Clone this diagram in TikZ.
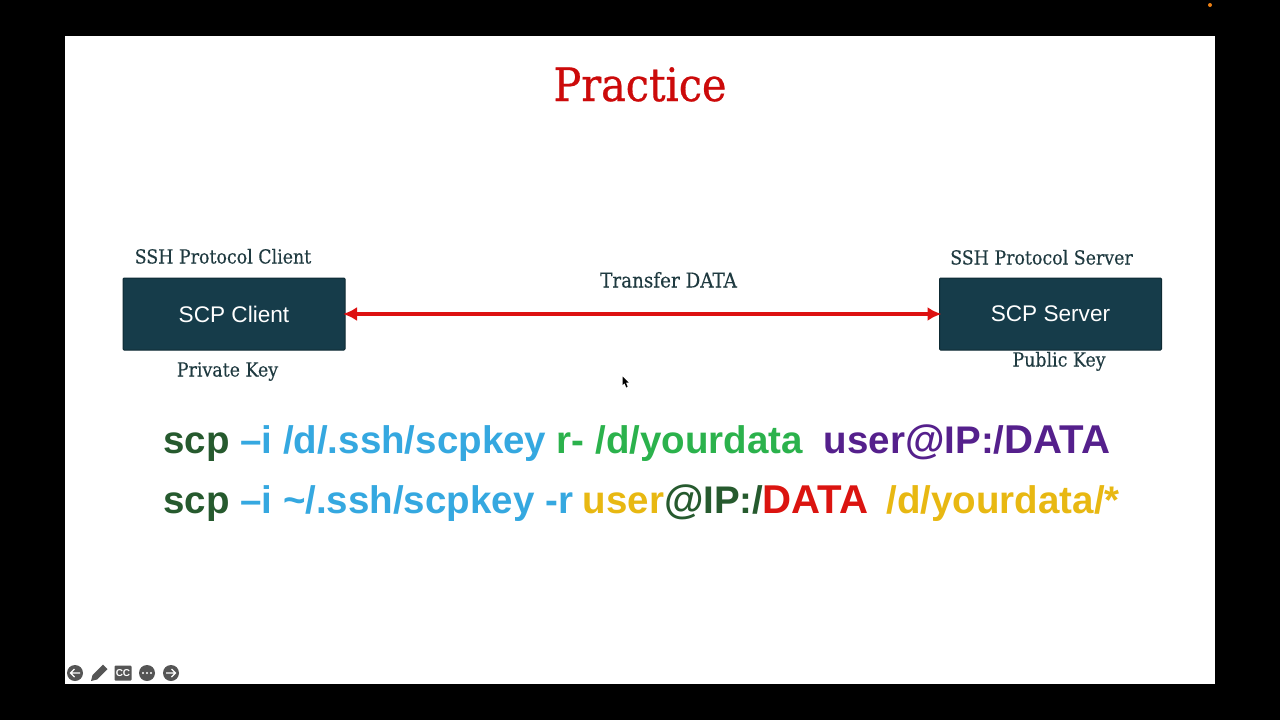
\documentclass[tikz,border=0pt]{standalone}
\usepackage{fontspec}
\setmainfont{Liberation Sans}
\newfontfamily\slab[FakeBold=0.25]{DejaVu Serif Condensed}
\newfontfamily\slabt[FakeBold=0.6]{DejaVu Serif Condensed}
\usetikzlibrary{arrows.meta}
\definecolor{boxfill}{HTML}{163C4A}
\definecolor{boxedge}{HTML}{0E2A33}
\definecolor{labelc}{HTML}{1F3A40}
\definecolor{titlec}{HTML}{CC0A0A}
\definecolor{arrowc}{HTML}{DD1111}
\definecolor{dgreen}{HTML}{265A2E}
\definecolor{sky}{HTML}{35A8E0}
\definecolor{lgreen}{HTML}{2BB24C}
\definecolor{purp}{HTML}{55208C}
\definecolor{amber}{HTML}{E8B812}
\definecolor{redt}{HTML}{DB1410}
\definecolor{icon}{HTML}{555555}
\newcommand{\bigat}{{\fontsize{40.5}{40}\selectfont @}}
\newcommand{\bigdata}{{\fontsize{40.2}{40}\selectfont DATA}}
\tikzset{x=1pt,y=-1pt,
 scpbox/.style={draw=boxedge,line width=1pt,rounded corners=1pt,outer sep=0pt,fill=boxfill,text=white,minimum width=222pt,minimum height=72pt,inner sep=0pt,font=\fontsize{22.6}{24}\selectfont},
 lbl/.style={text=labelc,inner sep=0pt,anchor=base,font=\slab\fontsize{19.35}{22}\selectfont},
 cmd/.style={inner sep=0pt,anchor=base west,font=\bfseries\fontsize{38.5}{40}\selectfont},
 circ/.style={circle,fill=icon,minimum size=16pt,inner sep=0pt},
 glyph/.style={white,line width=1.4pt}}
\begin{document}
\begin{tikzpicture}
\useasboundingbox (0,0) rectangle (1280,720);
\fill[black] (0,0) rectangle (1280,720);
\fill[white] (65,36) rectangle (1215,684);
\fill[orange!70!brown] (1210,5) circle (2pt);
\node[text=titlec,inner sep=0pt,anchor=base,font=\slabt\fontsize{46}{50}\selectfont] (title) at (640,101) {Practice};
\node[scpbox] (client) at (234,314) {\raisebox{-1pt}{SCP Client}};
\node[scpbox] (server) at (1050.5,314) {\raisebox{-1.4pt}{SCP Server}};
\draw[{Latex[length=14pt,width=14pt]}-{Latex[length=14pt,width=14pt]},draw=arrowc,fill=arrowc,line width=3.4pt,shorten <=-2pt,shorten >=-2pt] (client.east) -- (server.west);
\node[lbl] (a) at (223,263.5) {SSH Protocol Client};
\node[lbl] (b) at (1041.5,264.5) {SSH Protocol Server};
\node[lbl] (c) at (227.5,376.5) {Private Key};
\node[lbl] (d) at (1059,366.5) {Public Key};
\node[lbl,font=\slab\fontsize{20.4}{22}\selectfont] (e) at (668.5,287.5) {Transfer DATA};
\node[cmd] (l1) at (163,453) {\textcolor{dgreen}{scp} \textcolor{sky}{–i /d/.ssh/scpkey} \textcolor{lgreen}{r- /d/yourdata}\ \ \kern-0.5pt\textcolor{purp}{user\bigat IP:/\bigdata}};
\node[cmd] (l2) at (163,513) {\textcolor{dgreen}{scp} \textcolor{sky}{–i \textasciitilde/.ssh/scpkey -r} \kern-1pt\textcolor{amber}{user}\textcolor{dgreen}{\bigat IP:/}\kern-1pt\textcolor{redt}{\bigdata}\ \ \kern-3pt\textcolor{amber}{/d/yourdata/*}};
% cursor
\fill[black] (622.5,376.5) -- (622.5,385) -- (624.7,383.3) -- (626.2,387.5) -- (627.6,386.8) -- (626,382.7) -- (628.5,382.5) -- cycle;
% toolbar
\node[circ] (i1) at (75,673) {};
\draw[glyph] (80,673) -- (71,673) (74.5,669) -- (70.5,673) -- (74.5,677);
\fill[icon] (91,681) -- (92.5,675) -- (103,664.5) -- (107.5,669) -- (97,679.5) -- cycle;
\fill[icon,rounded corners=1pt] (114.5,665.5) rectangle (131.5,680.5);
\node[text=white,inner sep=0pt,font=\bfseries\fontsize{10}{10}\selectfont] (i3) at (123,673) {CC};
\node[circ] (i4) at (147,673) {};
\fill[white] (143,673) circle (1.2pt) (147,673) circle (1.2pt) (151,673) circle (1.2pt);
\node[circ] (i5) at (171,673) {};
\draw[glyph] (166,673) -- (175,673) (171.5,669) -- (175.5,673) -- (171.5,677);
\end{tikzpicture}
\end{document}
